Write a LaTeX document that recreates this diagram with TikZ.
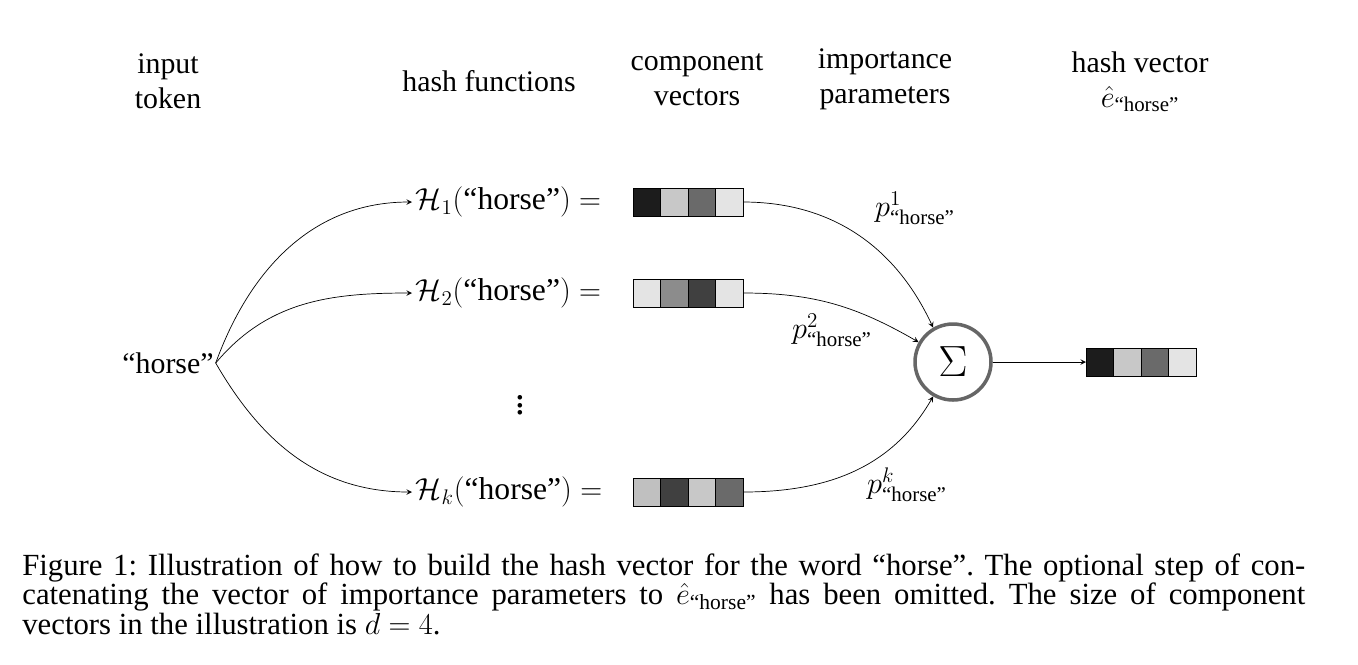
\documentclass[tikz,border=0pt]{standalone}
\usepackage{amsmath}
\usepackage{fontspec}
\setmainfont{Liberation Serif}
\begin{document}
\begin{tikzpicture}[x=0.02cm,y=-0.02cm,
  every node/.style={font=\fontsize{17}{20}\selectfont},
  lbl/.style={align=center,inner sep=0pt},
  arr/.style={->,>=stealth,thin},
  cell/.style={draw=black,thin,minimum width=27.5*0.02cm,minimum height=28*0.02cm,inner sep=0pt,outer sep=0pt}]
\useasboundingbox (0,0) rectangle (1358,664);
\newcommand{\vecbox}[6]{%
  \node[cell,fill=#3,anchor=west] (#1a) at (#2) {};
  \node[cell,fill=#4,anchor=west] (#1b) at (#1a.east) {};
  \node[cell,fill=#5,anchor=west] (#1c) at (#1b.east) {};
  \node[cell,fill=#6,anchor=west] (#1d) at (#1c.east) {};}
\definecolor{g1}{HTML}{1C1C1C}\definecolor{g2}{HTML}{C8C8C8}
\definecolor{g3}{HTML}{6A6A6A}\definecolor{g4}{HTML}{E4E4E4}
\definecolor{g5}{HTML}{8C8C8C}\definecolor{g6}{HTML}{404040}
\definecolor{g7}{HTML}{C0C0C0}
% headers
\node[lbl] (h0) at (168,81) {input\\[0pt]token};
\node[lbl] (h1) at (489,81) {hash functions};
\node[lbl] (h2) at (697,80) {component\\[0pt]vectors};
\node[lbl] (h3) at (885,79) {importance\\[0pt]parameters};
\node[lbl] (h4) at (1140,62) {hash vector};
\node[lbl] (h5) at (1140,99) {$\hat{e}_{\text{``horse''}}$};
% input
\node[inner sep=1pt] (in) at (168,363) {``horse''};
% hash rows
\node[anchor=west,inner sep=2pt,font=\fontsize{18}{20}\selectfont] (H1) at (412,202) {$\mathcal{H}_1(\text{``horse''})=$};
\node[anchor=west,inner sep=2pt,font=\fontsize{18}{20}\selectfont] (H2) at (412,293) {$\mathcal{H}_2(\text{``horse''})=$};
\node[anchor=west,inner sep=2pt,font=\fontsize{18}{20}\selectfont] (Hk) at (412,492) {$\mathcal{H}_k(\text{``horse''})=$};
\node[font=\fontsize{22}{24}\selectfont] (dots) at (520,400) {$\vdots$};
\vecbox{v1}{633,202}{g1}{g2}{g3}{g4}
\vecbox{v2}{633,293}{g4}{g5}{g6}{g4}
\vecbox{vk}{633,492}{g7}{g6}{g2}{g3}
\node[circle,draw=black!60,line width=2pt,minimum size=76*0.02cm,inner sep=0pt] (S) at (953,362) {\fontsize{26}{28}\selectfont$\Sigma$};
\vecbox{o}{1086,362}{g1}{g2}{g3}{g4}
% arrows
\draw[arr] (in.east) to[out=70,in=180] (H1.west);
\draw[arr] (in.east) to[out=50,in=180] (H2.west);
\draw[arr] (in.east) to[out=-60,in=180] (Hk.west);
\draw[arr] (v1d.east) to[out=0,in=115] (S.120);
\draw[arr] (v2d.east) to[out=0,in=150] (S.150);
\draw[arr] (vkd.east) to[out=0,in=-120] (S.-120);
\draw[arr] (S.east) -- (oa.west);
\node (p1) at (915,208) {$p^1_{\text{``horse''}}$};
\node (p2) at (832,330) {$p^2_{\text{``horse''}}$};
\node (pk) at (907,485) {$p^k_{\text{``horse''}}$};
% caption
\node[anchor=north west,text width=1283*0.02cm,align=justify,inner sep=0pt,font=\fontsize{17.5}{17}\frenchspacing\selectfont] (cap) at (22,553) {Figure 1: Illustration of how to build the hash vector for the word ``horse''. The optional step of con-\linebreak catenating the vector of importance parameters to $\hat{e}_{\text{``horse''}}$ has been omitted. The size of component\linebreak vectors in the illustration is $d=4$.};
\end{tikzpicture}
\end{document}
